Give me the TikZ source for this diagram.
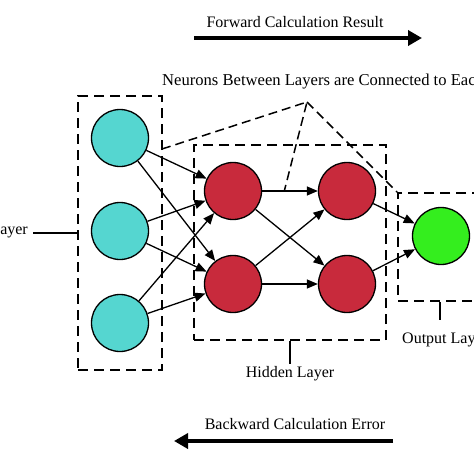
\documentclass[tikz,border=0pt]{standalone}
\usepackage{fontspec}
\setmainfont{Liberation Serif}
\usetikzlibrary{arrows.meta,calc}
\definecolor{incol}{RGB}{85,214,208}
\definecolor{hidcol}{RGB}{200,42,60}
\definecolor{outcol}{RGB}{52,238,30}
\tikzset{
  neuron/.style={circle,draw=black,line width=1.3pt,minimum size=57pt,inner sep=0pt},
  dashbox/.style={draw=black,line width=1.8pt,dash pattern=on 10pt off 6pt,inner sep=0pt},
  conn/.style={line width=1.3pt,-{Triangle[length=11pt,width=9pt]}},
  bigarrow/.style={line width=4pt,-{Triangle[length=14pt,width=15pt]}},
  callout/.style={line width=1.5pt,dash pattern=on 9pt off 5pt},
  lbl/.style={font=\fontsize{16}{19}\selectfont,inner sep=2pt},
  tick/.style={line width=1.3pt}
}
\begin{document}
\begin{tikzpicture}[x=1pt,y=-1pt]
\useasboundingbox (0,0) rectangle (474,474);
\clip (0,0) rectangle (474,474);
% boxes
\node[dashbox,minimum width=84pt,minimum height=274pt] (inbox) at (120,233) {};
\node[dashbox,minimum width=192pt,minimum height=195pt] (hbox) at (290,242.5) {};
\node[dashbox,minimum width=84pt,minimum height=108pt] (obox) at (440,247) {};
% neurons
\node[neuron,fill=incol] (i1) at (120,138) {};
\node[neuron,fill=incol] (i2) at (120,231) {};
\node[neuron,fill=incol] (i3) at (120,323) {};
\node[neuron,fill=hidcol] (h11) at (233,191) {};
\node[neuron,fill=hidcol] (h12) at (233,284) {};
\node[neuron,fill=hidcol] (h21) at (347,191) {};
\node[neuron,fill=hidcol] (h22) at (347,284) {};
\node[neuron,fill=outcol] (o) at (441,236) {};
% connections
\foreach \a in {i1,i2,i3}{\foreach \b in {h11,h12}{\draw[conn] (\a) -- (\b);}}
\foreach \a in {h11,h12}{\foreach \b in {h21,h22}{\draw[conn] (\a) -- (\b);}}
\foreach \a in {h21,h22}{\draw[conn] (\a) -- (o);}
% top/bottom arrows
\node[lbl] (fwd) at (295,22) {Forward Calculation Result};
\coordinate (f1) at (194,38);
\coordinate (f2) at (422,38);
\draw[bigarrow] (f1) -- (f2);
\node[lbl] (bwd) at (295,424) {Backward Calculation Error};
\coordinate (b1) at (393,441);
\coordinate (b2) at (174,441);
\draw[bigarrow] (b1) -- (b2);
% callout
\node[lbl,anchor=west,font=\fontsize{16.6}{19}\selectfont] (ctext) at (160,82) {Neurons Between Layers are Connected to Each Other};
\coordinate (apex) at (307,102);
\coordinate (c1) at (162,149);
\coordinate (c2) at ($(h11)!0.45!(h21)$);
\draw[callout] (c1) -- (apex) -- (c2);
\draw[callout] (apex) -- (obox.north west);
% layer labels
\node[lbl,anchor=east] (ilab) at (30,231) {Input Layer};
\coordinate (it) at (33,233);
\draw[tick] (it) -- (inbox.west |- it);
\node[lbl,anchor=north] (hlab) at (290,364) {Hidden Layer};
\draw[tick] (hbox.south) -- (hbox.south |- hlab.north);
\node[lbl,anchor=west] (olab) at (400,340) {Output Layer};
\coordinate (ot) at (440,320);
\draw[tick] (obox.south) -- (ot);
\end{tikzpicture}
\end{document}
